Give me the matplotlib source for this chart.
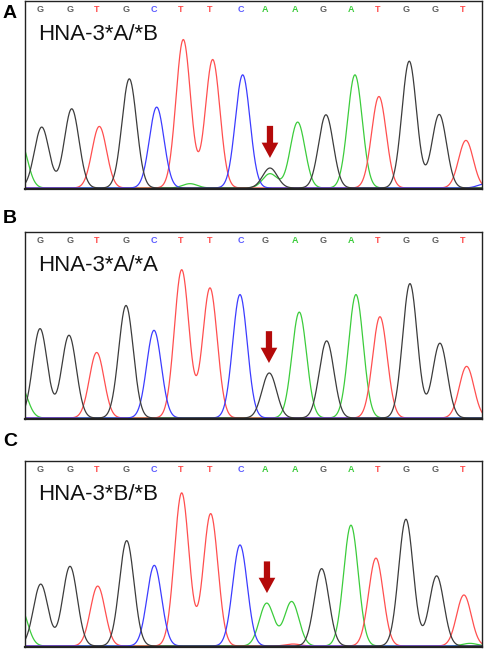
import numpy as np
import matplotlib.pyplot as plt

# Données (positions en unités de balayage, hauteurs en unités de signal)
lettres_x = [15, 45, 72, 101, 129, 156, 185, 216, 240, 270, 298, 326, 353, 381, 410, 438]
sequences = {
    'A': 'GGTGCTTCAAGATGGT',
    'B': 'GGTGCTTCGAGATGGT',
    'C': 'GGTGCTTCAAGATGGT',
}
genotypes = {'A': 'HNA-3*A/*B', 'B': 'HNA-3*A/*A', 'C': 'HNA-3*B/*B'}

pos_A = [16.7, 46.7, 74.3, 104.3, 131.7, 158.3, 187.7, 217.7, 245, 272.7, 301, 330, 354, 384.3, 414.3, 441]
pos_B = [15, 44, 71.7, 101, 129, 156.7, 185, 215, 244.3, 274.3, 301.7, 331, 355, 385, 415, 441.7]
pos_C = [15.7, 45, 72.7, 101.7, 129.3, 156.7, 185.7, 215, 241.7, 266.7, 296.7, 326, 351, 381, 411.7, 439]

canaux_A = 'GGTGCTTCGAGATGGT'
haut_A = [183, 238, 185, 328, 243, 446, 386, 340, 60, 198, 220, 340, 275, 381, 221, 143]
canaux_B = 'GGTGCTTCGAGATGGT'
haut_B = [270, 250, 198, 340, 265, 448, 393, 373, 136, 320, 233, 373, 306, 406, 226, 156]
canaux_C = 'GGTGCTTCAAGATGGT'
haut_C = [188, 242, 182, 320, 245, 465, 402, 307, 130, 135, 235, 367, 267, 385, 213, 155]

# pics secondaires (position, canal, hauteur)
extra_A = [(-5, 'A', 143), (245, 'A', 43), (165, 'A', 13), (460, 'C', 12)]
extra_B = [(-5, 'A', 100)]
extra_C = [(-5, 'A', 120), (268, 'T', 6), (445, 'A', 8)]

couleurs = {'G': '#3c3c3c', 'A': '#3ccc3c', 'T': '#ff4f4f', 'C': '#3c3cff'}
couleurs_lettres = {'G': '#606060', 'A': '#3ccc3c', 'T': '#ff4b4b', 'C': '#5a5aff'}

panneaux = [
    ('A', pos_A, canaux_A, haut_A, extra_A, 245, [0.0517, 0.7088, 0.944, 0.2897]),
    ('B', pos_B, canaux_B, haut_B, extra_B, 244, [0.0517, 0.3544, 0.944, 0.2881]),
    ('C', pos_C, canaux_C, haut_C, extra_C, 242, [0.0517, 0.0031, 0.944, 0.2866]),
]

fig = plt.figure(figsize=(4.84, 6.49), dpi=100)
plt.rcParams['font.family'] = ['Liberation Sans', 'DejaVu Sans']

x = np.linspace(-20, 480, 2000)
sigma = 7.3

for nom, pos, canaux, haut, extra, fleche_x, rect in panneaux:
    ax = fig.add_axes(rect)
    traces = {c: np.zeros_like(x) for c in 'GATC'}
    for p, c, h in list(zip(pos, canaux, haut)) + extra:
        traces[c] += h * np.exp(-(x - p) ** 2 / (2 * sigma ** 2))
    for c in 'ATCG':
        ax.plot(x, traces[c], color=couleurs[c], lw=0.9)
    for lx, b in zip(lettres_x, sequences[nom]):
        ax.text(lx, 536, b, color=couleurs_lettres[b], fontsize=6.5, fontweight='bold',
                ha='center', va='center')
    ax.text(13, 460, genotypes[nom], fontsize=16, color='#111111', ha='left', va='center')
    hauteur_pic = max(traces[c][np.argmin(abs(x - fleche_x))] for c in 'GATC')
    ax.annotate('', xy=(fleche_x, hauteur_pic + 22), xytext=(fleche_x, hauteur_pic + 135),
                arrowprops=dict(arrowstyle='simple,head_width=1.2,head_length=1.1,tail_width=0.45',
                                color='#b40a0a', lw=0))
    ax.set_xlim(0, 457)
    ax.set_ylim(-3, 562)
    ax.set_xticks([])
    ax.set_yticks([])
    for s in ax.spines.values():
        s.set_linewidth(1.0)
        s.set_color('#222222')
    ax.spines['bottom'].set_linewidth(1.6)

fig.text(3 / 484, 1 - 14 / 649, 'A', fontsize=14, fontweight='bold', va='center')
fig.text(3 / 484, 1 - 219 / 649, 'B', fontsize=14, fontweight='bold', va='center')
fig.text(3 / 484, 1 - 442 / 649, 'C', fontsize=14, fontweight='bold', va='center')

fig.savefig('out.png', dpi=100)
